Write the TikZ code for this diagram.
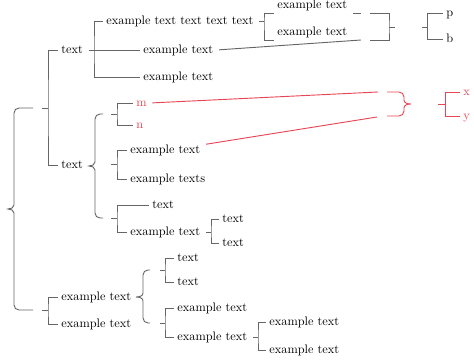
\documentclass[tikz,border=0pt]{standalone}
\usepackage{tikz}
\definecolor{Wire}{HTML}{666666}
\definecolor{Mark}{HTML}{E64656}
\tikzset{
  wire/.style={draw=Wire,line width=0.75pt},
  tick/.style={wire,shorten <=2pt},
  markwire/.style={draw=Mark,line width=0.75pt},
  leaf/.style={anchor=west,inner sep=2.5pt,text height=1.5ex,text depth=.25ex,text=black},
  markleaf/.style={leaf,text=Mark},
  lowleaf/.style={leaf,anchor=south west}
}
\begin{document}
\begin{tikzpicture}[x=0.81pt,y=-0.81pt]
  \useasboundingbox (0,0) rectangle (474,359);
  % first level
  \node[leaf] (upper) at (58,50) {text};
  \node[leaf] (lower) at (58,165) {text};
  \node[leaf] (base1) at (58,297) {example text};
  \node[leaf] (base2) at (58,324) {example text};
  \draw[wire] (33,108) -- (19,108) to[out=180,in=90] (14,113) -- (14,205) to[out=-90,in=0] (8,209)
    to[out=0,in=90] (14,213) -- (14,305) to[out=-90,in=180] (19,310) -- (33,310);
  \draw[wire] (42,108) -- (48,108); \draw[wire] (upper.west) -| (48,108) |- (lower.west);
  \draw[wire] (42,310) -- (48,310); \draw[wire] (base1.west) -| (48,310) |- (base2.west);
  % upper branch
  \node[leaf] (long) at (103,21) {example text text text text};
  \node[leaf] (cross) at (140,50) {example text};
  \node[leaf] (plain) at (140,77) {example text};
  \draw[tick] (upper.east) -- (cross.west);
  \draw[wire] (long.west) -| (94,50) |- (plain.west);
  \node[lowleaf] (pair1) at (274,13) {example text};
  \node[lowleaf] (pair2) at (274,40) {example text};
  \draw[tick] (long.east) -- (264,21);
  \draw[wire] (pair1.south west) -| (264,21) |- (pair2.south west);
  \coordinate (join1) at (361,13);
  \coordinate (join2) at (361,40);
  \draw[tick] (pair1.south east) -- (join1);
  \draw[tick] (cross.east) -- (join2);
  \draw[wire] (370,13) -| (389,27) |- (370,40); \draw[wire] (389,27) -- (395,27);
  \node[leaf] (p) at (443,13) {p};
  \node[leaf] (b) at (443,39) {b};
  \draw[wire] (422,27) -- (427,27); \draw[wire] (p.west) -| (427,27) |- (b.west);
  % lower branch
  \draw[wire] (103,114) -- (100,114) to[out=180,in=90] (95,119) -- (95,162) to[out=-90,in=0] (89,166)
    to[out=0,in=90] (95,170) -- (95,213) to[out=-90,in=180] (100,218) -- (103,218);
  \node[markleaf] (m) at (133,103) {m};
  \node[markleaf] (n) at (133,125) {n};
  \draw[wire] (111,114) -- (117,114); \draw[wire] (m.west) -| (117,114) |- (n.west);
  \node[leaf] (mid1) at (127,150) {example text};
  \node[leaf] (mid2) at (127,179) {example texts};
  \draw[wire] (111,164) -- (117,164); \draw[wire] (mid1.west) -| (117,164) |- (mid2.west);
  \node[leaf] (end1) at (149,205) {text};
  \node[leaf] (end2) at (127,232) {example text};
  \draw[wire] (111,218) -- (117,218); \draw[wire] (end1.west) -| (117,218) |- (end2.west);
  \node[leaf] (sub1) at (219,219) {text};
  \node[leaf] (sub2) at (219,243) {text};
  \draw[tick] (end2.east) -- (211,232);
  \draw[wire] (sub1.west) -| (211,232) |- (sub2.west);
  % red links
  \coordinate (hook1) at (378,92);
  \coordinate (hook2) at (377,117);
  \draw[markwire,shorten <=2pt] (m.east) -- (hook1);
  \draw[markwire,shorten <=2pt] (mid1.8) -- (hook2);
  \draw[markwire] (387,92) -- (399,92) to[out=0,in=90] (404,97) -- (404,100) to[out=-90,in=180] (411,104)
    to[out=180,in=90] (404,108) -- (404,111) to[out=-90,in=0] (399,116) -- (387,116);
  \node[markleaf] (x) at (460,92) {x};
  \node[markleaf] (y) at (460,116) {y};
  \draw[markwire] (438,104) -- (445,104); \draw[markwire] (x.west) -| (445,104) |- (y.west);
  % bottom branch
  \draw[wire] (150,270) -- (148,270) to[out=180,in=90] (143,275) -- (143,293) to[out=-90,in=0] (136,297)
    to[out=0,in=90] (143,301) -- (143,318) to[out=-90,in=180] (148,323) -- (150,323);
  \node[leaf] (leaf1) at (174,258) {text};
  \node[leaf] (leaf2) at (174,282) {text};
  \draw[wire] (160,270) -- (165,270); \draw[wire] (leaf1.west) -| (165,270) |- (leaf2.west);
  \node[leaf] (leaf3) at (174,308) {example text};
  \node[leaf] (leaf4) at (174,337) {example text};
  \draw[wire] (160,323) -- (165,323); \draw[wire] (leaf3.west) -| (165,323) |- (leaf4.west);
  \node[leaf] (leaf5) at (266,322) {example text};
  \node[leaf] (leaf6) at (266,350) {example text};
  \draw[tick] (leaf4.east) -- (258,337);
  \draw[wire] (leaf5.west) -| (258,337) |- (leaf6.west);
\end{tikzpicture}
\end{document}
